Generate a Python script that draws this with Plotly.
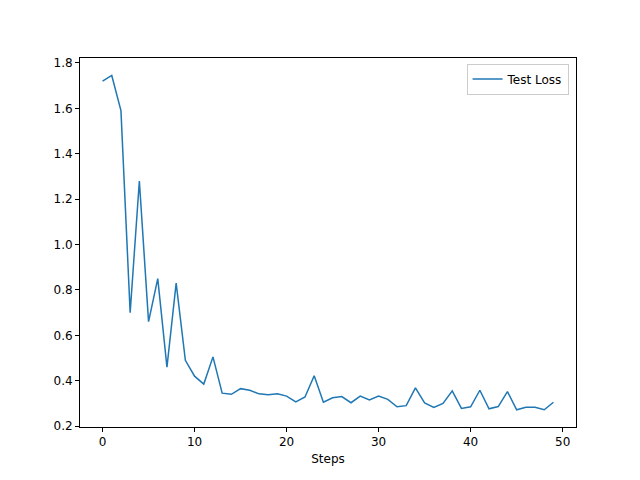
import plotly.graph_objects as go

steps = list(range(50))
test_loss = [1.72, 1.745, 1.59, 0.70, 1.28, 0.66, 0.85, 0.46, 0.83, 0.49,
             0.42, 0.385, 0.505, 0.345, 0.34, 0.365, 0.358, 0.342, 0.338, 0.342,
             0.332, 0.307, 0.328, 0.422, 0.305, 0.325, 0.33, 0.303, 0.332, 0.315,
             0.332, 0.318, 0.285, 0.29, 0.368, 0.302, 0.282, 0.30, 0.355, 0.278,
             0.285, 0.358, 0.276, 0.286, 0.352, 0.272, 0.283, 0.283, 0.272, 0.305]

fig = go.Figure(go.Scatter(x=steps, y=test_loss, mode="lines", name="Test Loss",
                           line=dict(color="#1f77b4", width=1.5), showlegend=True))
axis = dict(showgrid=False, zeroline=False, showline=True, mirror=True, linecolor="black",
            linewidth=1, ticks="outside", ticklen=4, tickcolor="black",
            tickfont=dict(family="DejaVu Sans", size=12, color="black"))
fig.update_layout(
    width=640, height=480, plot_bgcolor="white", paper_bgcolor="white",
    margin=dict(l=72, r=72, t=50, b=61),
    xaxis=dict(range=[-2.45, 51.45], tickvals=[0, 10, 20, 30, 40, 50],
               title=dict(text="Steps", font=dict(family="DejaVu Sans", size=12, color="black"), standoff=6), **axis),
    yaxis=dict(range=[0.196, 1.822], tickvals=[0.2, 0.4, 0.6, 0.8, 1.0, 1.2, 1.4, 1.6, 1.8],
               tickformat=".1f", **axis),
    legend=dict(x=0.985, y=0.985, xanchor="right", yanchor="top", bgcolor="white",
                bordercolor="#cccccc", borderwidth=1,
                font=dict(family="DejaVu Sans", size=12, color="black")),
)
fig.write_html("out.html")
